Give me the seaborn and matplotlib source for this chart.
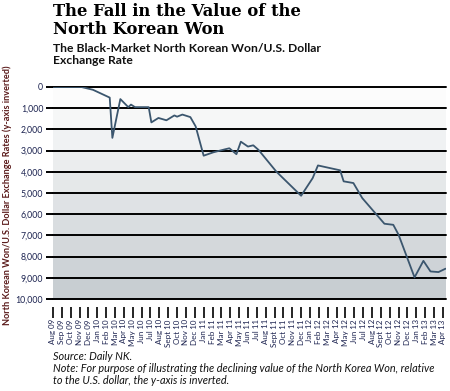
import numpy as np
import pandas as pd
import matplotlib
matplotlib.use('Agg')
import matplotlib.pyplot as plt
import seaborn as sns

# Month tick labels, Aug 09 .. Apr 13
months = ['Aug 09', 'Sep 09', 'Oct 09', 'Nov 09', 'Dec 09',
          'Jan 10', 'Feb 10', 'Mar 10', 'Apr 10', 'May 10', 'Jun 10', 'Jul 10',
          'Aug 10', 'Sept 10', 'Oct 10', 'Nov 10', 'Dec 10',
          'Jan 11', 'Feb 11', 'Mar 11', 'Apr 11', 'May 11', 'Jun 11', 'Jul 11',
          'Aug 11', 'Sept 11', 'Oct 11', 'Nov 11', 'Dec 11',
          'Jan 12', 'Feb 12', 'Mar 12', 'Apr 12', 'May 12', 'Jun 12', 'Jul 12',
          'Aug 12', 'Sept 12', 'Oct 12', 'Nov 12', 'Dec 12',
          'Jan 13', 'Feb 13', 'Mar 13', 'Apr 13']

# observation position (months since Aug 09) and won per dollar
obs_month = [0, 3.2, 4.5, 6.4, 6.7, 7.6, 8.5, 8.8, 9.25, 10.8, 11.1, 11.9, 12.8,
             13.7, 14.0, 14.6, 15.5, 16.1, 17.0, 18.1, 19.4, 19.9, 20.7, 21.2,
             22.0, 22.6, 23.2, 25.2, 28.0, 29.3, 29.9, 32.4, 32.8, 33.9, 34.9,
             37.4, 38.4, 39.0, 40.8, 41.8, 42.6, 43.5, 44.3]
won_per_usd = [0, 0, 130, 500, 2400, 570, 950, 830, 950, 950, 1670, 1460, 1570,
               1340, 1400, 1300, 1420, 1860, 3240, 3080, 2940, 2890, 3170, 2580,
               2810, 2750, 2970, 3990, 5130, 4300, 3700, 3930, 4450, 4530, 5240,
               6450, 6500, 6970, 8980, 8200, 8700, 8730, 8570]

y_ticks = list(range(0, 10001, 1000))

df = pd.DataFrame({'month': obs_month, 'rate': won_per_usd})

sns.set_style('white', {'xtick.bottom': True, 'ytick.left': True})
plt.rcParams['font.family'] = ['Lato', 'DejaVu Sans']

fig = plt.figure(figsize=(4.5, 3.91), dpi=100)
ax = fig.add_axes([53 / 450, 1 - 299 / 391, 393 / 450, 212 / 391])

# grey bands getting darker towards the bottom
top_c = np.array([252, 252, 252]) / 255
bot_c = np.array([200, 206, 210]) / 255
for i in range(10):
    c = top_c + (bot_c - top_c) * i / 9
    ax.axhspan(i * 1000, (i + 1) * 1000, color=c, lw=0, zorder=0)

for y in y_ticks:
    ax.axhline(y, color='black', lw=1.4, zorder=1, clip_on=False)

sns.lineplot(data=df, x='month', y='rate', color='#3b566e', lw=1.3, ax=ax, zorder=3)

# spine moves first, it resets the ticks
for s in ['top', 'right', 'left']:
    ax.spines[s].set_visible(False)
ax.spines['bottom'].set_position(('outward', 6))
ax.spines['bottom'].set_color('none')

ax.set_xlim(0, 44.35)
ax.set_ylim(10000, 0)
ax.set_yticks(y_ticks)
ax.set_yticklabels([f'{v:,}' for v in y_ticks], fontsize=6.3, color='#1c2350')
ax.set_xticks(range(len(months)))
ax.set_xticklabels(months, rotation=90, fontsize=5.8, color='#1c2350')
ax.tick_params(axis='y', length=5, width=1.4, color='black', pad=2, left=True)
ax.tick_params(axis='x', length=8, width=1.2, color='black', pad=0.5, bottom=True)
ax.set_xlabel('')
ax.set_ylabel('North Korean Won/U.S. Dollar Exchange Rates (y-axis inverted)',
              fontsize=6.6, fontweight='bold', color='#5a1a1a')
ax.yaxis.set_label_coords(-0.104, 0.49)

fig.text(53 / 450, 1 - 3 / 391, 'The Fall in the Value of the\nNorth Korean Won',
         family='DejaVu Serif', fontweight='bold', fontsize=11.8, va='top',
         linespacing=1.05, color='black')
fig.text(53 / 450, 1 - 43 / 391, 'The Black-Market North Korean Won/U.S. Dollar\nExchange Rate',
         fontweight='bold', fontsize=8.7, va='top', linespacing=1.1, color='#111')

fig.text(53 / 450, 1 - 351 / 391, 'Source: Daily NK.\n'
         'Note: For purpose of illustrating the declining value of the North Korea Won, relative\n'
         'to the U.S. dollar, the y-axis is inverted.',
         style='italic', fontsize=7.8, va='top', linespacing=1.1, color='#111')

fig.savefig('out.png', dpi=100)
